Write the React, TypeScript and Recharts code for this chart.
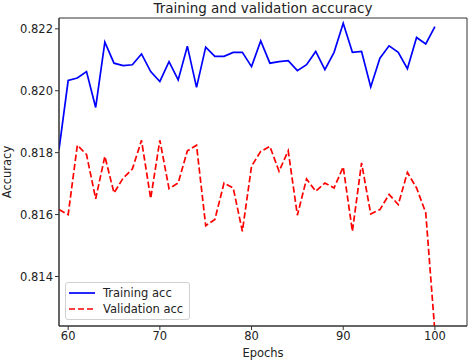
import { LineChart, Line, XAxis, YAxis, ReferenceArea } from "recharts";

// epochs shown in the window (59 sits on the left edge and gets clipped)
const epochs = [
  59, 60, 61, 62, 63, 64, 65, 66, 67, 68, 69, 70, 71, 72, 73, 74, 75, 76, 77, 78, 79,
  80, 81, 82, 83, 84, 85, 86, 87, 88, 89, 90, 91, 92, 93, 94, 95, 96, 97, 98, 99, 100,
];

const trainingAcc = [
  0.8181, 0.82033, 0.82041, 0.82062, 0.81946, 0.82157, 0.82089, 0.82081, 0.82084, 0.82119,
  0.82062, 0.8203, 0.82094, 0.82035, 0.82144, 0.82011, 0.82141, 0.82111, 0.82111, 0.82124,
  0.82124, 0.82078, 0.82161, 0.82089, 0.82094, 0.82097, 0.82065, 0.82084, 0.82127, 0.82068,
  0.82124, 0.82218, 0.82124, 0.82127, 0.82012, 0.82105, 0.82145, 0.82124, 0.82071, 0.82172,
  0.82151, 0.82207,
];

const validationAcc = [
  0.81616, 0.816, 0.81824, 0.81794, 0.81651, 0.81788, 0.8167, 0.81718, 0.81747, 0.8184,
  0.81652, 0.8184, 0.81684, 0.81702, 0.81806, 0.81824, 0.81564, 0.81584, 0.81702, 0.81686,
  0.81546, 0.81756, 0.81804, 0.8182, 0.8174, 0.81806, 0.81598, 0.81715, 0.81675, 0.81702,
  0.81686, 0.81754, 0.81546, 0.81767, 0.81602, 0.81616, 0.81665, 0.81632, 0.81736, 0.81686,
  0.81606, 0.8122,
];

const xTicks = [60, 70, 80, 90, 100];
const yTicks = [0.814, 0.816, 0.818, 0.82, 0.822];
const xDomain = [59, 103.5];
const yDomain = [0.8124, 0.82235];

const data = epochs.map((e, i) => ({
  epoch: e,
  train: trainingAcc[i],
  val: validationAcc[i],
}));

const FONT = "DejaVu Sans, sans-serif";
const INK = "#222";

// title + x label drawn together off the x axis
function XLabel() {
  return (
    <g fontFamily={FONT} fill={INK}>
      <text x={263} y={13} textAnchor="middle" fontSize={13.5}>
        Training and validation accuracy
      </text>
      <text x={263} y={357} textAnchor="middle" fontSize={11.5}>
        Epochs
      </text>
    </g>
  );
}

function YLabel() {
  return (
    <text
      x={11}
      y={172}
      transform="rotate(-90 11 172)"
      textAnchor="middle"
      fontSize={11.5}
      fill={INK}
      fontFamily={FONT}
    >
      Accuracy
    </text>
  );
}

function LegendBox() {
  const rows = [
    { name: "Training acc", color: "#0000ff", dash: undefined },
    { name: "Validation acc", color: "#ff0000", dash: "6 3" },
  ];
  return (
    <div
      style={{
        position: "absolute",
        left: 65,
        top: 282,
        border: "1px solid #d0d0d0",
        borderRadius: 3,
        background: "rgba(255,255,255,0.8)",
        padding: "2px 6px 2px 3px",
        fontFamily: FONT,
        fontSize: 11.5,
        color: INK,
      }}
    >
      {rows.map((r) => (
        <div key={r.name} style={{ display: "flex", alignItems: "center", height: 16 }}>
          <svg width={26} height={6} style={{ marginRight: 8 }}>
            <line x1={0} y1={3} x2={26} y2={3} stroke={r.color} strokeWidth={1.7} strokeDasharray={r.dash} />
          </svg>
          <span>{r.name}</span>
        </div>
      ))}
    </div>
  );
}

export default function App() {
  return (
    <div style={{ position: "absolute", left: 0, top: 0, width: 474, height: 362, background: "#fff" }}>
      <LineChart width={474} height={362} data={data} margin={{ top: 18, right: 7, left: 0, bottom: 0 }}>
        <XAxis
          dataKey="epoch"
          type="number"
          domain={xDomain}
          allowDataOverflow
          ticks={xTicks}
          height={36}
          stroke="#333"
          tickSize={4}
          tick={{ fill: INK, fontSize: 11.5, fontFamily: FONT }}
          label={<XLabel />}
        />
        <YAxis
          type="number"
          domain={yDomain}
          allowDataOverflow
          ticks={yTicks}
          width={59}
          stroke="#333"
          tickSize={4}
          tickFormatter={(v: number) => v.toFixed(3)}
          tick={{ fill: INK, fontSize: 11.5, fontFamily: FONT }}
          label={<YLabel />}
        />
        <ReferenceArea
          x1={xDomain[0]}
          x2={xDomain[1]}
          y1={yDomain[0]}
          y2={yDomain[1]}
          fill="none"
          stroke="#333"
          strokeWidth={1}
          ifOverflow="visible"
        />
        <Line
          dataKey="train"
          name="Training acc"
          stroke="#0000ff"
          strokeWidth={1.7}
          dot={false}
          isAnimationActive={false}
        />
        <Line
          dataKey="val"
          name="Validation acc"
          stroke="#ff0000"
          strokeWidth={1.7}
          strokeDasharray="6.4 2.8"
          dot={false}
          isAnimationActive={false}
        />
      </LineChart>
      <LegendBox />
    </div>
  );
}
